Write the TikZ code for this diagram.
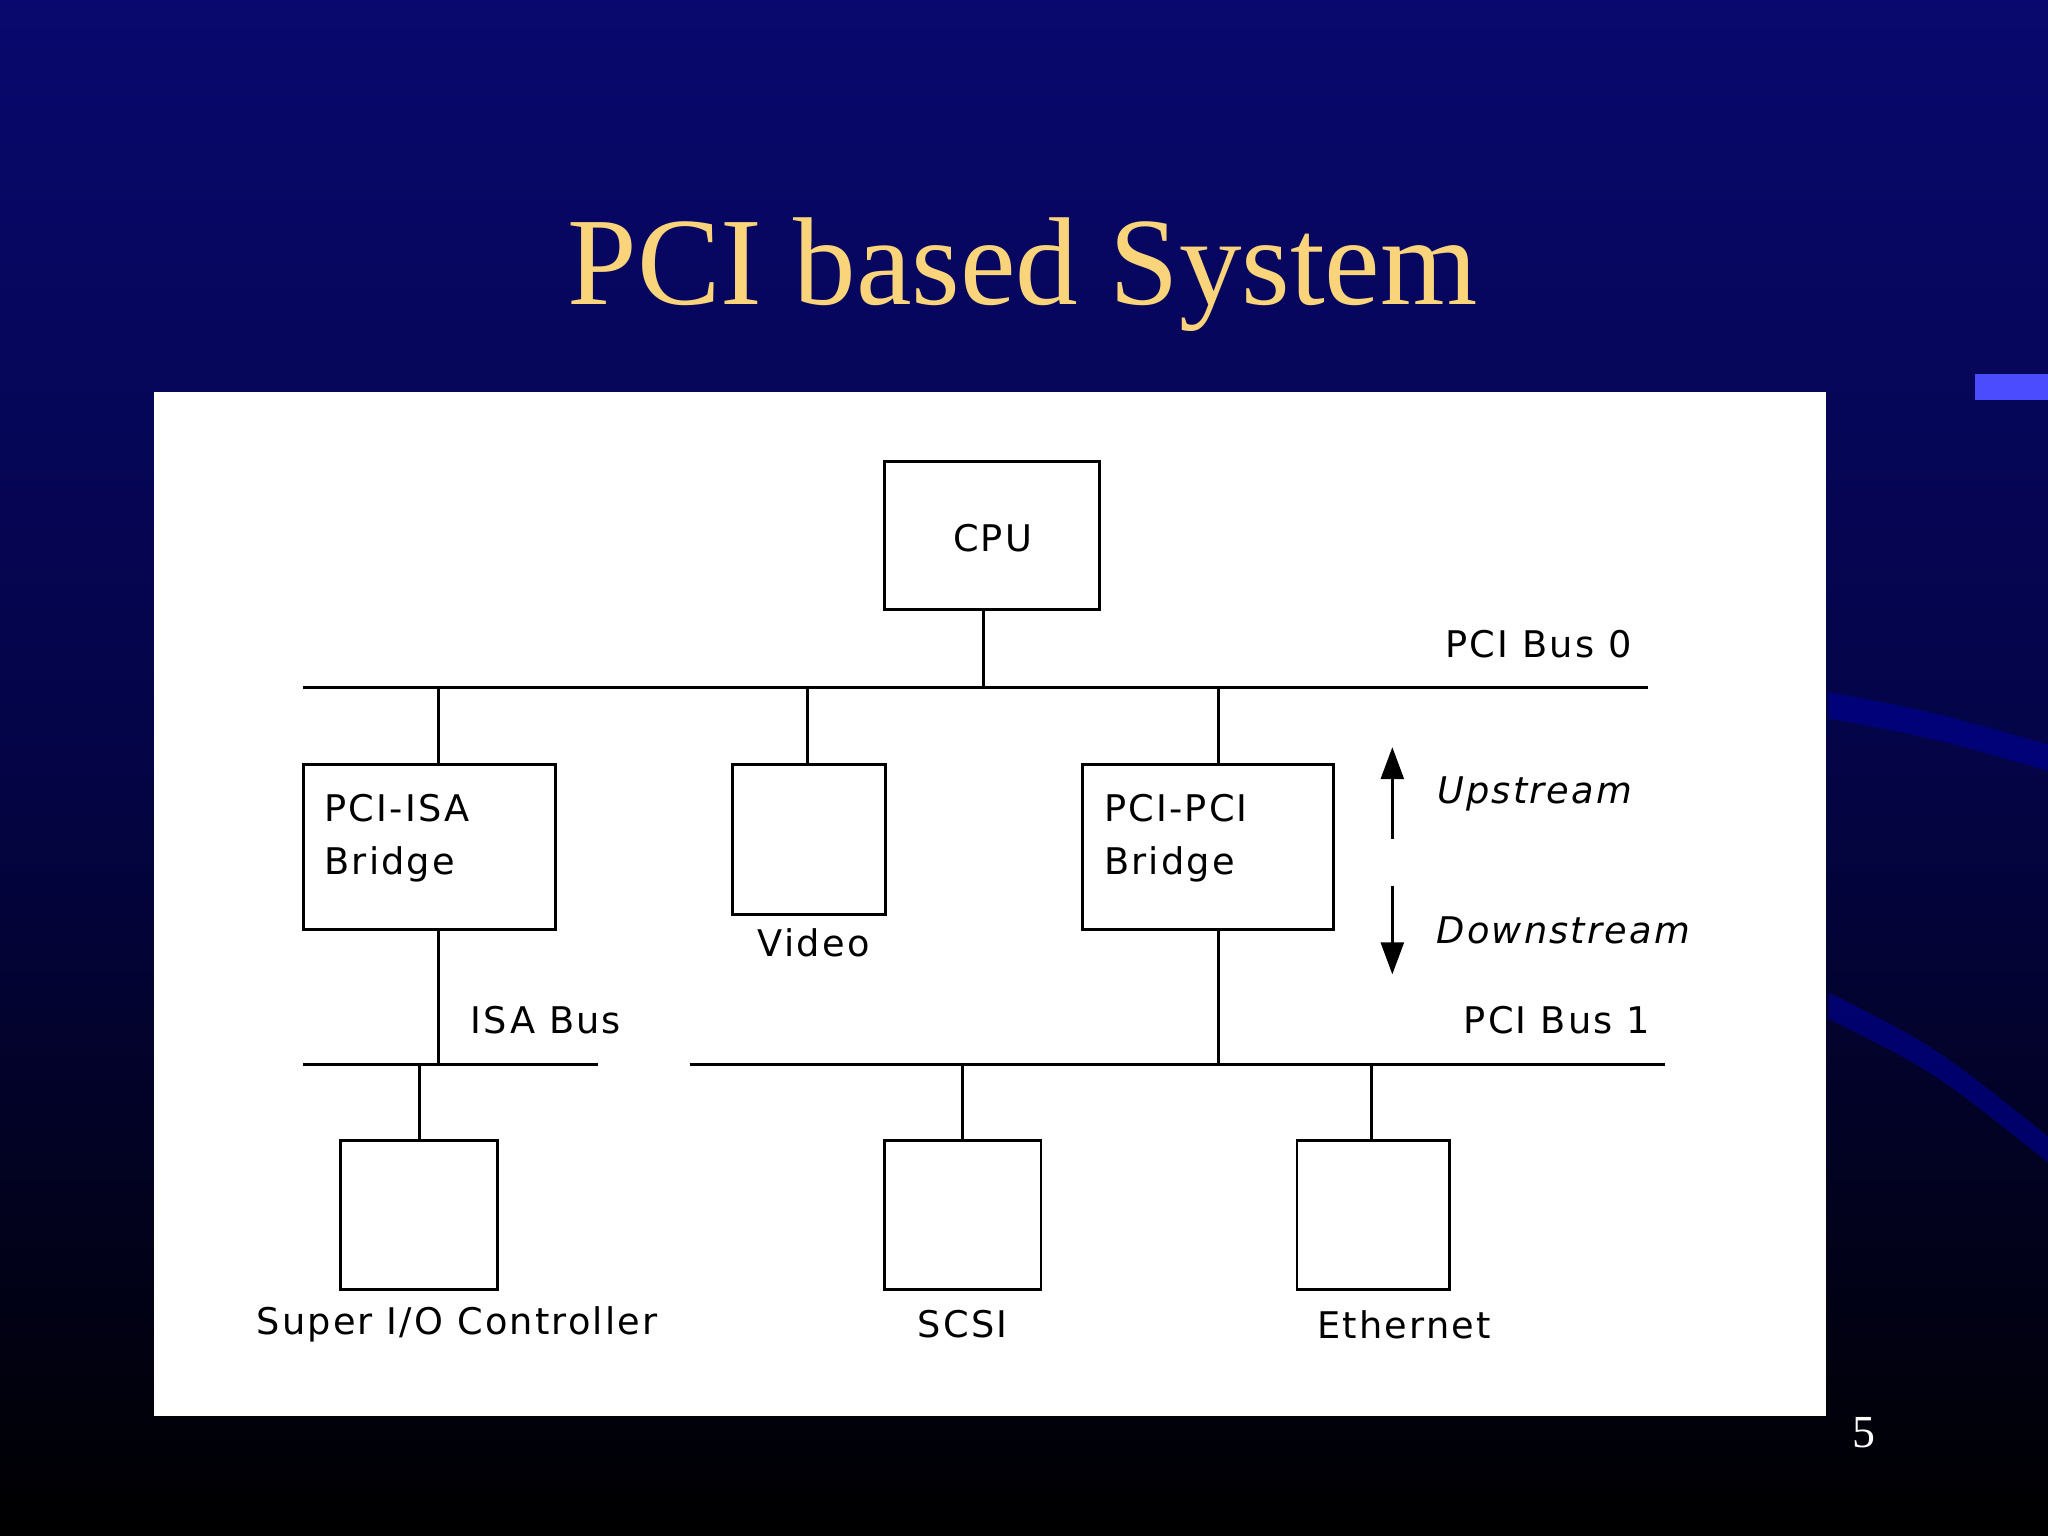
\documentclass[tikz,border=0pt]{standalone}
\usepackage{fontspec}
\setmainfont{Liberation Serif}
\newfontfamily\dsans{DejaVu Sans}[LetterSpace=6]
\usetikzlibrary{arrows.meta}
\definecolor{titlecol}{RGB}{250,212,122}
\definecolor{topblue}{RGB}{8,8,110}
\definecolor{midblue}{RGB}{4,4,70}
\begin{document}
\begin{tikzpicture}[x=0.02cm,y=-0.02cm,
  box/.style={draw=black,line width=1.3pt,fill=white},
  wire/.style={draw=black,line width=1.3pt},
  lbl/.style={font=\dsans\fontsize{16}{19}\selectfont,text=black,inner sep=0pt}]
\useasboundingbox (0,0) rectangle (1568,1176);
\shade[top color=topblue,bottom color=black,middle color=midblue] (0,0) rectangle (1568,1176);
% decorative swooshes
\fill[blue!60!black,opacity=0.6] (1400,530) .. controls (1480,545) .. (1568,570) -- (1568,590) .. controls (1480,565) .. (1400,550) -- cycle;
\fill[blue!60!black,opacity=0.6] (1400,760) .. controls (1480,800) .. (1568,870) -- (1568,890) .. controls (1480,820) .. (1400,780) -- cycle;
\fill[blue!70!white] (1512,286) rectangle (1568,306);
\node[font=\fontsize{54.5}{60}\selectfont,text=titlecol] (title) at (783,210) {PCI based System};
\node[font=\fontsize{20}{24}\selectfont,text=white] (pg) at (1427,1097) {5};
\fill[white] (118,300) rectangle (1398,1084);
% boxes
\draw[box] (677,353) rectangle (842,467);
\node[lbl] (cpu) at (760,412) {CPU};
\draw[box] (232,585) rectangle (425,712);
\node[lbl,align=left,anchor=north west] (isab) at (248,608) {PCI-ISA\\[4pt]Bridge};
\draw[box] (561,585) rectangle (678,700);
\node[lbl] (video) at (623,722) {Video};
\draw[box] (829,585) rectangle (1021,712);
\node[lbl,align=left,anchor=north west] (pcib) at (845,608) {PCI-PCI\\[4pt]Bridge};
\draw[box] (261,873) rectangle (381,987);
\draw[box] (677,873) rectangle (797,987);
\draw[box] (993,873) rectangle (1110,987);
\node[lbl] (sio) at (350,1014) {Super I/O Controller};
\node[lbl] (scsi) at (737,1014) {SCSI};
\node[lbl] (eth) at (1075,1014) {Ethernet};
% buses
\draw[wire] (232,526) -- (1262,526);
\node[lbl] (bus0) at (1178,493) {PCI Bus 0};
\draw[wire] (753,467) -- (753,526);
\draw[wire] (336,526) -- (336,585);
\draw[wire] (618,526) -- (618,585);
\draw[wire] (933,526) -- (933,585);
\draw[wire] (336,712) -- (336,815);
\draw[wire] (232,815) -- (458,815);
\node[lbl] (isabus) at (418,781) {ISA Bus};
\draw[wire] (933,712) -- (933,815);
\draw[wire] (528,815) -- (1275,815);
\node[lbl] (bus1) at (1192,781) {PCI Bus 1};
\draw[wire] (321,815) -- (321,873);
\draw[wire] (737,815) -- (737,873);
\draw[wire] (1050,815) -- (1050,873);
% arrows
\coordinate (u1) at (1066,642); \coordinate (u2) at (1066,572);
\coordinate (d1) at (1066,678); \coordinate (d2) at (1066,746);
\draw[wire,-{Triangle[length=14pt,width=10pt]}] (u1) -- (u2);
\draw[wire,-{Triangle[length=14pt,width=10pt]}] (d1) -- (d2);
\node[lbl,font=\dsans\itshape\fontsize{16}{19}\selectfont] (up) at (1175,608) {Upstream};
\node[lbl,font=\dsans\itshape\fontsize{16}{19}\selectfont] (down) at (1197,712) {Downstream};
\end{tikzpicture}
\end{document}
